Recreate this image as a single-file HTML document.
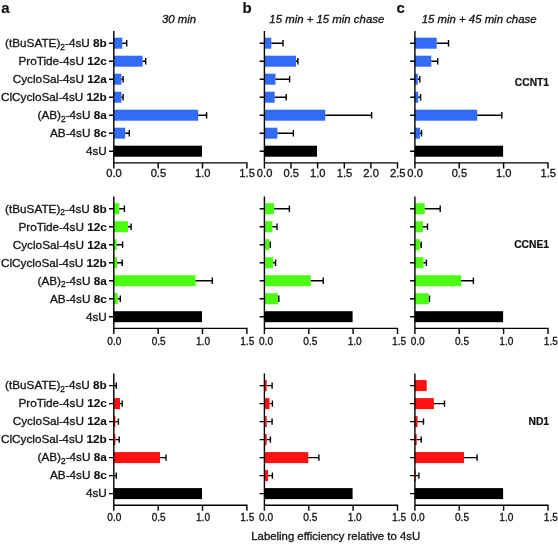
<!DOCTYPE html>
<html><head><meta charset="utf-8"><title>Labeling efficiency</title>
<style>html,body{margin:0;padding:0;background:#fff}body{width:558px;height:544px;overflow:hidden}</style></head>
<body>
<svg width="558" height="544" viewBox="0 0 558 544" style="display:block;filter:blur(.35px)" font-family="Liberation Sans, sans-serif" stroke="#111" stroke-width=".3">
<rect width="558" height="544" fill="#fff" stroke="none"/>
<rect x="113.8" y="37.7" width="8.5" height="11.0" fill="#316bf8" stroke="none"/>
<path d="M122.2 43.2H126.7M126.7 40.0V46.4" stroke="#000" stroke-width="1.4" fill="none"/>
<rect x="113.8" y="55.7" width="28.8" height="11.0" fill="#316bf8" stroke="none"/>
<path d="M142.6 61.2H145.7M145.7 58.0V64.4" stroke="#000" stroke-width="1.4" fill="none"/>
<rect x="113.8" y="73.7" width="7.6" height="11.0" fill="#316bf8" stroke="none"/>
<path d="M121.4 79.2H123.1M123.1 76.0V82.4" stroke="#000" stroke-width="1.4" fill="none"/>
<rect x="113.8" y="91.7" width="7.6" height="11.0" fill="#316bf8" stroke="none"/>
<path d="M121.4 97.2H123.1M123.1 94.0V100.4" stroke="#000" stroke-width="1.4" fill="none"/>
<rect x="113.8" y="109.7" width="84.4" height="11.0" fill="#316bf8" stroke="none"/>
<path d="M198.2 115.2H206.6M206.6 112.0V118.4" stroke="#000" stroke-width="1.4" fill="none"/>
<rect x="113.8" y="127.7" width="11.4" height="11.0" fill="#316bf8" stroke="none"/>
<path d="M125.2 133.2H129.3M129.3 130.0V136.4" stroke="#000" stroke-width="1.4" fill="none"/>
<rect x="113.8" y="145.7" width="88.2" height="11.0" fill="#000" stroke="none"/>
<path d="M113.8 31.7V162.9H246.9M109.7 43.2H113.8M109.7 61.2H113.8M109.7 79.2H113.8M109.7 97.2H113.8M109.7 115.2H113.8M109.7 133.2H113.8M109.7 151.2H113.8M113.8 162.9V167.7M158.2 162.9V167.7M202.5 162.9V167.7M246.9 162.9V167.7" stroke="#000" stroke-width="1.4" fill="none" stroke-linecap="square"/>
<text transform="translate(114.0 177.1) scale(0.96 1)" font-size="11.6" text-anchor="middle" fill="#111">0.0</text>
<text transform="translate(158.4 177.1) scale(0.96 1)" font-size="11.6" text-anchor="middle" fill="#111">0.5</text>
<text transform="translate(202.7 177.1) scale(0.96 1)" font-size="11.6" text-anchor="middle" fill="#111">1.0</text>
<text transform="translate(247.1 177.1) scale(0.96 1)" font-size="11.6" text-anchor="middle" fill="#111">1.5</text>
<rect x="264.4" y="37.7" width="6.9" height="11.0" fill="#316bf8" stroke="none"/>
<path d="M271.3 43.2H283.0M283.0 40.0V46.4" stroke="#000" stroke-width="1.4" fill="none"/>
<rect x="264.4" y="55.7" width="31.6" height="11.0" fill="#316bf8" stroke="none"/>
<path d="M296.0 61.2H297.9M297.9 58.0V64.4" stroke="#000" stroke-width="1.4" fill="none"/>
<rect x="264.4" y="73.7" width="11.1" height="11.0" fill="#316bf8" stroke="none"/>
<path d="M275.5 79.2H289.6M289.6 76.0V82.4" stroke="#000" stroke-width="1.4" fill="none"/>
<rect x="264.4" y="91.7" width="10.3" height="11.0" fill="#316bf8" stroke="none"/>
<path d="M274.7 97.2H286.2M286.2 94.0V100.4" stroke="#000" stroke-width="1.4" fill="none"/>
<rect x="264.4" y="109.7" width="60.9" height="11.0" fill="#316bf8" stroke="none"/>
<path d="M325.3 115.2H371.6M371.6 112.0V118.4" stroke="#000" stroke-width="1.4" fill="none"/>
<rect x="264.4" y="127.7" width="13.0" height="11.0" fill="#316bf8" stroke="none"/>
<path d="M277.4 133.2H293.4M293.4 130.0V136.4" stroke="#000" stroke-width="1.4" fill="none"/>
<rect x="264.4" y="145.7" width="52.6" height="11.0" fill="#000" stroke="none"/>
<path d="M264.4 31.7V162.9H397.5M260.3 43.2H264.4M260.3 61.2H264.4M260.3 79.2H264.4M260.3 97.2H264.4M260.3 115.2H264.4M260.3 133.2H264.4M260.3 151.2H264.4M264.4 162.9V167.7M291.0 162.9V167.7M317.6 162.9V167.7M344.3 162.9V167.7M370.9 162.9V167.7M397.5 162.9V167.7" stroke="#000" stroke-width="1.4" fill="none" stroke-linecap="square"/>
<text transform="translate(264.6 177.1) scale(0.96 1)" font-size="11.6" text-anchor="middle" fill="#111">0.0</text>
<text transform="translate(291.2 177.1) scale(0.96 1)" font-size="11.6" text-anchor="middle" fill="#111">0.5</text>
<text transform="translate(317.8 177.1) scale(0.96 1)" font-size="11.6" text-anchor="middle" fill="#111">1.0</text>
<text transform="translate(344.5 177.1) scale(0.96 1)" font-size="11.6" text-anchor="middle" fill="#111">1.5</text>
<text transform="translate(371.1 177.1) scale(0.96 1)" font-size="11.6" text-anchor="middle" fill="#111">2.0</text>
<text transform="translate(397.7 177.1) scale(0.96 1)" font-size="11.6" text-anchor="middle" fill="#111">2.5</text>
<rect x="414.9" y="37.7" width="21.8" height="11.0" fill="#316bf8" stroke="none"/>
<path d="M436.7 43.2H448.5M448.5 40.0V46.4" stroke="#000" stroke-width="1.4" fill="none"/>
<rect x="414.9" y="55.7" width="16.4" height="11.0" fill="#316bf8" stroke="none"/>
<path d="M431.3 61.2H437.7M437.7 58.0V64.4" stroke="#000" stroke-width="1.4" fill="none"/>
<rect x="414.9" y="73.7" width="2.9" height="11.0" fill="#316bf8" stroke="none"/>
<path d="M417.7 79.2H419.8M419.8 76.0V82.4" stroke="#000" stroke-width="1.4" fill="none"/>
<rect x="414.9" y="91.7" width="3.3" height="11.0" fill="#316bf8" stroke="none"/>
<path d="M418.1 97.2H420.6M420.6 94.0V100.4" stroke="#000" stroke-width="1.4" fill="none"/>
<rect x="414.9" y="109.7" width="62.3" height="11.0" fill="#316bf8" stroke="none"/>
<path d="M477.1 115.2H501.8M501.8 112.0V118.4" stroke="#000" stroke-width="1.4" fill="none"/>
<rect x="414.9" y="127.7" width="5.0" height="11.0" fill="#316bf8" stroke="none"/>
<path d="M419.8 133.2H421.5M421.5 130.0V136.4" stroke="#000" stroke-width="1.4" fill="none"/>
<rect x="414.9" y="145.7" width="88.2" height="11.0" fill="#000" stroke="none"/>
<path d="M414.9 31.7V162.9H548.0M410.8 43.2H414.9M410.8 61.2H414.9M410.8 79.2H414.9M410.8 97.2H414.9M410.8 115.2H414.9M410.8 133.2H414.9M410.8 151.2H414.9M414.9 162.9V167.7M459.2 162.9V167.7M503.6 162.9V167.7M548.0 162.9V167.7" stroke="#000" stroke-width="1.4" fill="none" stroke-linecap="square"/>
<text transform="translate(415.1 177.1) scale(0.96 1)" font-size="11.6" text-anchor="middle" fill="#111">0.0</text>
<text transform="translate(459.4 177.1) scale(0.96 1)" font-size="11.6" text-anchor="middle" fill="#111">0.5</text>
<text transform="translate(503.8 177.1) scale(0.96 1)" font-size="11.6" text-anchor="middle" fill="#111">1.0</text>
<text transform="translate(548.2 177.1) scale(0.96 1)" font-size="11.6" text-anchor="middle" fill="#111">1.5</text>
<text x="106.8" y="47.0" font-size="11.75" text-anchor="end" fill="#111" xml:space="preserve">(tBuSATE)<tspan font-size="8.4" dy="2.7">2</tspan><tspan dy="-2.7">-4sU </tspan><tspan font-weight="bold" stroke-width=".1">8b</tspan></text>
<text x="106.8" y="65.0" font-size="11.75" text-anchor="end" fill="#111" xml:space="preserve">ProTide-4sU <tspan font-weight="bold" stroke-width=".1">12c</tspan></text>
<text x="106.8" y="83.0" font-size="11.75" text-anchor="end" fill="#111" xml:space="preserve">CycloSal-4sU <tspan font-weight="bold" stroke-width=".1">12a</tspan></text>
<text x="106.8" y="101.0" font-size="11.75" text-anchor="end" fill="#111" xml:space="preserve">ClCycloSal-4sU <tspan font-weight="bold" stroke-width=".1">12b</tspan></text>
<text x="106.8" y="119.0" font-size="11.75" text-anchor="end" fill="#111" xml:space="preserve">(AB)<tspan font-size="8.4" dy="2.7">2</tspan><tspan dy="-2.7">-4sU </tspan><tspan font-weight="bold" stroke-width=".1">8a</tspan></text>
<text x="106.8" y="137.0" font-size="11.75" text-anchor="end" fill="#111" xml:space="preserve">AB-4sU <tspan font-weight="bold" stroke-width=".1">8c</tspan></text>
<text x="106.8" y="155.0" font-size="11.75" text-anchor="end" fill="#111" xml:space="preserve">4sU</text>
<rect x="113.8" y="203.2" width="5.5" height="11.0" fill="#4cff12" stroke="none"/>
<path d="M119.3 208.8H124.4M124.4 205.6V211.9" stroke="#000" stroke-width="1.4" fill="none"/>
<rect x="113.8" y="221.2" width="14.3" height="11.0" fill="#4cff12" stroke="none"/>
<path d="M128.1 226.8H131.1M131.1 223.6V229.9" stroke="#000" stroke-width="1.4" fill="none"/>
<rect x="113.8" y="239.2" width="2.8" height="11.0" fill="#4cff12" stroke="none"/>
<path d="M116.6 244.8H122.6M122.6 241.6V247.9" stroke="#000" stroke-width="1.4" fill="none"/>
<rect x="113.8" y="257.2" width="3.2" height="11.0" fill="#4cff12" stroke="none"/>
<path d="M117.0 262.8H122.2M122.2 259.6V265.9" stroke="#000" stroke-width="1.4" fill="none"/>
<rect x="113.8" y="275.2" width="81.8" height="11.0" fill="#4cff12" stroke="none"/>
<path d="M195.6 280.8H212.3M212.3 277.6V283.9" stroke="#000" stroke-width="1.4" fill="none"/>
<rect x="113.8" y="293.2" width="4.0" height="11.0" fill="#4cff12" stroke="none"/>
<path d="M117.8 298.8H120.3M120.3 295.6V301.9" stroke="#000" stroke-width="1.4" fill="none"/>
<rect x="113.8" y="311.2" width="88.2" height="11.0" fill="#000" stroke="none"/>
<path d="M113.8 197.2V328.4H246.9M109.7 208.8H113.8M109.7 226.8H113.8M109.7 244.8H113.8M109.7 262.8H113.8M109.7 280.8H113.8M109.7 298.8H113.8M109.7 316.8H113.8M113.8 328.4V333.2M158.2 328.4V333.2M202.5 328.4V333.2M246.9 328.4V333.2" stroke="#000" stroke-width="1.4" fill="none" stroke-linecap="square"/>
<text transform="translate(114.3 344.8) scale(0.93 1)" font-size="10.9" text-anchor="middle" fill="#111">0.0</text>
<text transform="translate(158.7 344.8) scale(0.93 1)" font-size="10.9" text-anchor="middle" fill="#111">0.5</text>
<text transform="translate(203.0 344.8) scale(0.93 1)" font-size="10.9" text-anchor="middle" fill="#111">1.0</text>
<text transform="translate(247.4 344.8) scale(0.93 1)" font-size="10.9" text-anchor="middle" fill="#111">1.5</text>
<rect x="264.4" y="203.2" width="9.7" height="11.0" fill="#4cff12" stroke="none"/>
<path d="M274.1 208.8H289.4M289.4 205.6V211.9" stroke="#000" stroke-width="1.4" fill="none"/>
<rect x="264.4" y="221.2" width="8.0" height="11.0" fill="#4cff12" stroke="none"/>
<path d="M272.4 226.8H277.0M277.0 223.6V229.9" stroke="#000" stroke-width="1.4" fill="none"/>
<rect x="264.4" y="239.2" width="5.0" height="11.0" fill="#4cff12" stroke="none"/>
<path d="M269.4 244.8H270.3M270.3 241.6V247.9" stroke="#000" stroke-width="1.4" fill="none"/>
<rect x="264.4" y="257.2" width="8.6" height="11.0" fill="#4cff12" stroke="none"/>
<path d="M273.0 262.8H275.6M275.6 259.6V265.9" stroke="#000" stroke-width="1.4" fill="none"/>
<rect x="264.4" y="275.2" width="46.4" height="11.0" fill="#4cff12" stroke="none"/>
<path d="M310.8 280.8H323.2M323.2 277.6V283.9" stroke="#000" stroke-width="1.4" fill="none"/>
<rect x="264.4" y="293.2" width="13.7" height="11.0" fill="#4cff12" stroke="none"/>
<path d="M278.1 298.8H278.8M278.8 295.6V301.9" stroke="#000" stroke-width="1.4" fill="none"/>
<rect x="264.4" y="311.2" width="88.2" height="11.0" fill="#000" stroke="none"/>
<path d="M264.4 197.2V328.4H397.5M260.3 208.8H264.4M260.3 226.8H264.4M260.3 244.8H264.4M260.3 262.8H264.4M260.3 280.8H264.4M260.3 298.8H264.4M260.3 316.8H264.4M264.4 328.4V333.2M308.8 328.4V333.2M353.1 328.4V333.2M397.5 328.4V333.2" stroke="#000" stroke-width="1.4" fill="none" stroke-linecap="square"/>
<text transform="translate(266.0 344.8) scale(0.93 1)" font-size="10.9" text-anchor="middle" fill="#111">0.0</text>
<text transform="translate(310.4 344.8) scale(0.93 1)" font-size="10.9" text-anchor="middle" fill="#111">0.5</text>
<text transform="translate(354.7 344.8) scale(0.93 1)" font-size="10.9" text-anchor="middle" fill="#111">1.0</text>
<text transform="translate(399.1 344.8) scale(0.93 1)" font-size="10.9" text-anchor="middle" fill="#111">1.5</text>
<rect x="414.9" y="203.2" width="9.9" height="11.0" fill="#4cff12" stroke="none"/>
<path d="M424.7 208.8H440.2M440.2 205.6V211.9" stroke="#000" stroke-width="1.4" fill="none"/>
<rect x="414.9" y="221.2" width="8.1" height="11.0" fill="#4cff12" stroke="none"/>
<path d="M422.9 226.8H427.5M427.5 223.6V229.9" stroke="#000" stroke-width="1.4" fill="none"/>
<rect x="414.9" y="239.2" width="5.2" height="11.0" fill="#4cff12" stroke="none"/>
<path d="M420.1 244.8H421.2M421.2 241.6V247.9" stroke="#000" stroke-width="1.4" fill="none"/>
<rect x="414.9" y="257.2" width="8.6" height="11.0" fill="#4cff12" stroke="none"/>
<path d="M423.5 262.8H426.4M426.4 259.6V265.9" stroke="#000" stroke-width="1.4" fill="none"/>
<rect x="414.9" y="275.2" width="46.2" height="11.0" fill="#4cff12" stroke="none"/>
<path d="M461.1 280.8H473.4M473.4 277.6V283.9" stroke="#000" stroke-width="1.4" fill="none"/>
<rect x="414.9" y="293.2" width="13.8" height="11.0" fill="#4cff12" stroke="none"/>
<path d="M428.7 298.8H429.5M429.5 295.6V301.9" stroke="#000" stroke-width="1.4" fill="none"/>
<rect x="414.9" y="311.2" width="88.2" height="11.0" fill="#000" stroke="none"/>
<path d="M414.9 197.2V328.4H548.0M410.8 208.8H414.9M410.8 226.8H414.9M410.8 244.8H414.9M410.8 262.8H414.9M410.8 280.8H414.9M410.8 298.8H414.9M410.8 316.8H414.9M414.9 328.4V333.2M459.2 328.4V333.2M503.6 328.4V333.2M548.0 328.4V333.2" stroke="#000" stroke-width="1.4" fill="none" stroke-linecap="square"/>
<text transform="translate(417.7 344.8) scale(0.93 1)" font-size="10.9" text-anchor="middle" fill="#111">0.0</text>
<text transform="translate(462.0 344.8) scale(0.93 1)" font-size="10.9" text-anchor="middle" fill="#111">0.5</text>
<text transform="translate(506.4 344.8) scale(0.93 1)" font-size="10.9" text-anchor="middle" fill="#111">1.0</text>
<text transform="translate(550.8 344.8) scale(0.93 1)" font-size="10.9" text-anchor="middle" fill="#111">1.5</text>
<text x="106.8" y="212.6" font-size="11.75" text-anchor="end" fill="#111" xml:space="preserve">(tBuSATE)<tspan font-size="8.4" dy="2.7">2</tspan><tspan dy="-2.7">-4sU </tspan><tspan font-weight="bold" stroke-width=".1">8b</tspan></text>
<text x="106.8" y="230.6" font-size="11.75" text-anchor="end" fill="#111" xml:space="preserve">ProTide-4sU <tspan font-weight="bold" stroke-width=".1">12c</tspan></text>
<text x="106.8" y="248.6" font-size="11.75" text-anchor="end" fill="#111" xml:space="preserve">CycloSal-4sU <tspan font-weight="bold" stroke-width=".1">12a</tspan></text>
<text x="106.8" y="266.6" font-size="11.75" text-anchor="end" fill="#111" xml:space="preserve">ClCycloSal-4sU <tspan font-weight="bold" stroke-width=".1">12b</tspan></text>
<text x="106.8" y="284.6" font-size="11.75" text-anchor="end" fill="#111" xml:space="preserve">(AB)<tspan font-size="8.4" dy="2.7">2</tspan><tspan dy="-2.7">-4sU </tspan><tspan font-weight="bold" stroke-width=".1">8a</tspan></text>
<text x="106.8" y="302.6" font-size="11.75" text-anchor="end" fill="#111" xml:space="preserve">AB-4sU <tspan font-weight="bold" stroke-width=".1">8c</tspan></text>
<text x="106.8" y="320.6" font-size="11.75" text-anchor="end" fill="#111" xml:space="preserve">4sU</text>
<rect x="113.8" y="380.1" width="0.0" height="11.0" fill="#ff1010" stroke="none"/>
<path d="M113.8 385.6H116.3M116.3 382.4V388.8" stroke="#000" stroke-width="1.4" fill="none"/>
<rect x="113.8" y="398.1" width="6.2" height="11.0" fill="#ff1010" stroke="none"/>
<path d="M120.0 403.6H122.2M122.2 400.4V406.8" stroke="#000" stroke-width="1.4" fill="none"/>
<rect x="113.8" y="416.1" width="1.6" height="11.0" fill="#ff1010" stroke="none"/>
<path d="M115.4 421.6H118.4M118.4 418.4V424.8" stroke="#000" stroke-width="1.4" fill="none"/>
<rect x="113.8" y="434.1" width="1.6" height="11.0" fill="#ff1010" stroke="none"/>
<path d="M115.4 439.6H119.2M119.2 436.4V442.8" stroke="#000" stroke-width="1.4" fill="none"/>
<rect x="113.8" y="452.1" width="46.2" height="11.0" fill="#ff1010" stroke="none"/>
<path d="M160.0 457.6H166.0M166.0 454.4V460.8" stroke="#000" stroke-width="1.4" fill="none"/>
<rect x="113.8" y="470.1" width="0.0" height="11.0" fill="#ff1010" stroke="none"/>
<path d="M113.8 475.6H116.3M116.3 472.4V478.8" stroke="#000" stroke-width="1.4" fill="none"/>
<rect x="113.8" y="488.1" width="88.2" height="11.0" fill="#000" stroke="none"/>
<path d="M113.8 374.1V505.3H246.9M109.7 385.6H113.8M109.7 403.6H113.8M109.7 421.6H113.8M109.7 439.6H113.8M109.7 457.6H113.8M109.7 475.6H113.8M109.7 493.6H113.8M113.8 505.3V510.1M158.2 505.3V510.1M202.5 505.3V510.1M246.9 505.3V510.1" stroke="#000" stroke-width="1.4" fill="none" stroke-linecap="square"/>
<text transform="translate(114.3 520.7) scale(0.93 1)" font-size="10.9" text-anchor="middle" fill="#111">0.0</text>
<text transform="translate(158.7 520.7) scale(0.93 1)" font-size="10.9" text-anchor="middle" fill="#111">0.5</text>
<text transform="translate(203.0 520.7) scale(0.93 1)" font-size="10.9" text-anchor="middle" fill="#111">1.0</text>
<text transform="translate(247.4 520.7) scale(0.93 1)" font-size="10.9" text-anchor="middle" fill="#111">1.5</text>
<rect x="264.4" y="380.1" width="2.3" height="11.0" fill="#ff1010" stroke="none"/>
<path d="M266.7 385.6H272.1M272.1 382.4V388.8" stroke="#000" stroke-width="1.4" fill="none"/>
<rect x="264.4" y="398.1" width="5.1" height="11.0" fill="#ff1010" stroke="none"/>
<path d="M269.5 403.6H272.4M272.4 400.4V406.8" stroke="#000" stroke-width="1.4" fill="none"/>
<rect x="264.4" y="416.1" width="2.3" height="11.0" fill="#ff1010" stroke="none"/>
<path d="M266.7 421.6H272.1M272.1 418.4V424.8" stroke="#000" stroke-width="1.4" fill="none"/>
<rect x="264.4" y="434.1" width="2.3" height="11.0" fill="#ff1010" stroke="none"/>
<path d="M266.7 439.6H270.4M270.4 436.4V442.8" stroke="#000" stroke-width="1.4" fill="none"/>
<rect x="264.4" y="452.1" width="43.9" height="11.0" fill="#ff1010" stroke="none"/>
<path d="M308.3 457.6H318.9M318.9 454.4V460.8" stroke="#000" stroke-width="1.4" fill="none"/>
<rect x="264.4" y="470.1" width="3.7" height="11.0" fill="#ff1010" stroke="none"/>
<path d="M268.1 475.6H272.4M272.4 472.4V478.8" stroke="#000" stroke-width="1.4" fill="none"/>
<rect x="264.4" y="488.1" width="88.2" height="11.0" fill="#000" stroke="none"/>
<path d="M264.4 374.1V505.3H397.5M260.3 385.6H264.4M260.3 403.6H264.4M260.3 421.6H264.4M260.3 439.6H264.4M260.3 457.6H264.4M260.3 475.6H264.4M260.3 493.6H264.4M264.4 505.3V510.1M308.8 505.3V510.1M353.1 505.3V510.1M397.5 505.3V510.1" stroke="#000" stroke-width="1.4" fill="none" stroke-linecap="square"/>
<text transform="translate(266.0 520.7) scale(0.93 1)" font-size="10.9" text-anchor="middle" fill="#111">0.0</text>
<text transform="translate(310.4 520.7) scale(0.93 1)" font-size="10.9" text-anchor="middle" fill="#111">0.5</text>
<text transform="translate(354.7 520.7) scale(0.93 1)" font-size="10.9" text-anchor="middle" fill="#111">1.0</text>
<text transform="translate(399.1 520.7) scale(0.93 1)" font-size="10.9" text-anchor="middle" fill="#111">1.5</text>
<rect x="414.9" y="380.1" width="11.8" height="11.0" fill="#ff1010" stroke="none"/>
<rect x="414.9" y="398.1" width="19.0" height="11.0" fill="#ff1010" stroke="none"/>
<path d="M433.8 403.6H444.5M444.5 400.4V406.8" stroke="#000" stroke-width="1.4" fill="none"/>
<rect x="414.9" y="416.1" width="2.7" height="11.0" fill="#ff1010" stroke="none"/>
<path d="M417.5 421.6H423.5M423.5 418.4V424.8" stroke="#000" stroke-width="1.4" fill="none"/>
<rect x="414.9" y="434.1" width="1.8" height="11.0" fill="#ff1010" stroke="none"/>
<path d="M416.6 439.6H421.2M421.2 436.4V442.8" stroke="#000" stroke-width="1.4" fill="none"/>
<rect x="414.9" y="452.1" width="49.1" height="11.0" fill="#ff1010" stroke="none"/>
<path d="M464.0 457.6H477.1M477.1 454.4V460.8" stroke="#000" stroke-width="1.4" fill="none"/>
<rect x="414.9" y="470.1" width="0.9" height="11.0" fill="#ff1010" stroke="none"/>
<path d="M415.8 475.6H418.9M418.9 472.4V478.8" stroke="#000" stroke-width="1.4" fill="none"/>
<rect x="414.9" y="488.1" width="88.2" height="11.0" fill="#000" stroke="none"/>
<path d="M414.9 374.1V505.3H548.0M410.8 385.6H414.9M410.8 403.6H414.9M410.8 421.6H414.9M410.8 439.6H414.9M410.8 457.6H414.9M410.8 475.6H414.9M410.8 493.6H414.9M414.9 505.3V510.1M459.2 505.3V510.1M503.6 505.3V510.1M548.0 505.3V510.1" stroke="#000" stroke-width="1.4" fill="none" stroke-linecap="square"/>
<text transform="translate(417.7 520.7) scale(0.93 1)" font-size="10.9" text-anchor="middle" fill="#111">0.0</text>
<text transform="translate(462.0 520.7) scale(0.93 1)" font-size="10.9" text-anchor="middle" fill="#111">0.5</text>
<text transform="translate(506.4 520.7) scale(0.93 1)" font-size="10.9" text-anchor="middle" fill="#111">1.0</text>
<text transform="translate(550.8 520.7) scale(0.93 1)" font-size="10.9" text-anchor="middle" fill="#111">1.5</text>
<text x="106.8" y="389.4" font-size="11.75" text-anchor="end" fill="#111" xml:space="preserve">(tBuSATE)<tspan font-size="8.4" dy="2.7">2</tspan><tspan dy="-2.7">-4sU </tspan><tspan font-weight="bold" stroke-width=".1">8b</tspan></text>
<text x="106.8" y="407.4" font-size="11.75" text-anchor="end" fill="#111" xml:space="preserve">ProTide-4sU <tspan font-weight="bold" stroke-width=".1">12c</tspan></text>
<text x="106.8" y="425.4" font-size="11.75" text-anchor="end" fill="#111" xml:space="preserve">CycloSal-4sU <tspan font-weight="bold" stroke-width=".1">12a</tspan></text>
<text x="106.8" y="443.4" font-size="11.75" text-anchor="end" fill="#111" xml:space="preserve">ClCycloSal-4sU <tspan font-weight="bold" stroke-width=".1">12b</tspan></text>
<text x="106.8" y="461.4" font-size="11.75" text-anchor="end" fill="#111" xml:space="preserve">(AB)<tspan font-size="8.4" dy="2.7">2</tspan><tspan dy="-2.7">-4sU </tspan><tspan font-weight="bold" stroke-width=".1">8a</tspan></text>
<text x="106.8" y="479.4" font-size="11.75" text-anchor="end" fill="#111" xml:space="preserve">AB-4sU <tspan font-weight="bold" stroke-width=".1">8c</tspan></text>
<text x="106.8" y="497.4" font-size="11.75" text-anchor="end" fill="#111" xml:space="preserve">4sU</text>
<text x="179" y="23.4" font-size="11.4" font-style="italic" text-anchor="middle" fill="#111">30 min</text>
<text x="326.8" y="23.4" font-size="11.4" font-style="italic" text-anchor="middle" fill="#111">15 min + 15 min chase</text>
<text x="479.1" y="23.4" font-size="11.4" font-style="italic" text-anchor="middle" fill="#111">15 min + 45 min chase</text>
<text x="1.2" y="12.5" font-size="15" font-weight="bold" fill="#111" stroke-width=".15">a</text>
<text x="242.6" y="12.5" font-size="15" font-weight="bold" fill="#111" stroke-width=".15">b</text>
<text x="396.6" y="12.5" font-size="15" font-weight="bold" fill="#111" stroke-width=".15">c</text>
<text x="549.1" y="85.6" font-size="10.3" font-weight="bold" text-anchor="end" fill="#111" stroke-width=".2">CCNT1</text>
<text x="549.1" y="247.5" font-size="10.3" font-weight="bold" text-anchor="end" fill="#111" stroke-width=".2">CCNE1</text>
<text x="549.1" y="424.5" font-size="10.3" font-weight="bold" text-anchor="end" fill="#111" stroke-width=".2">ND1</text>
<text x="335.7" y="539.6" font-size="11.35" text-anchor="middle" fill="#111">Labeling efficiency relative to 4sU</text>
</svg>
</body></html>
